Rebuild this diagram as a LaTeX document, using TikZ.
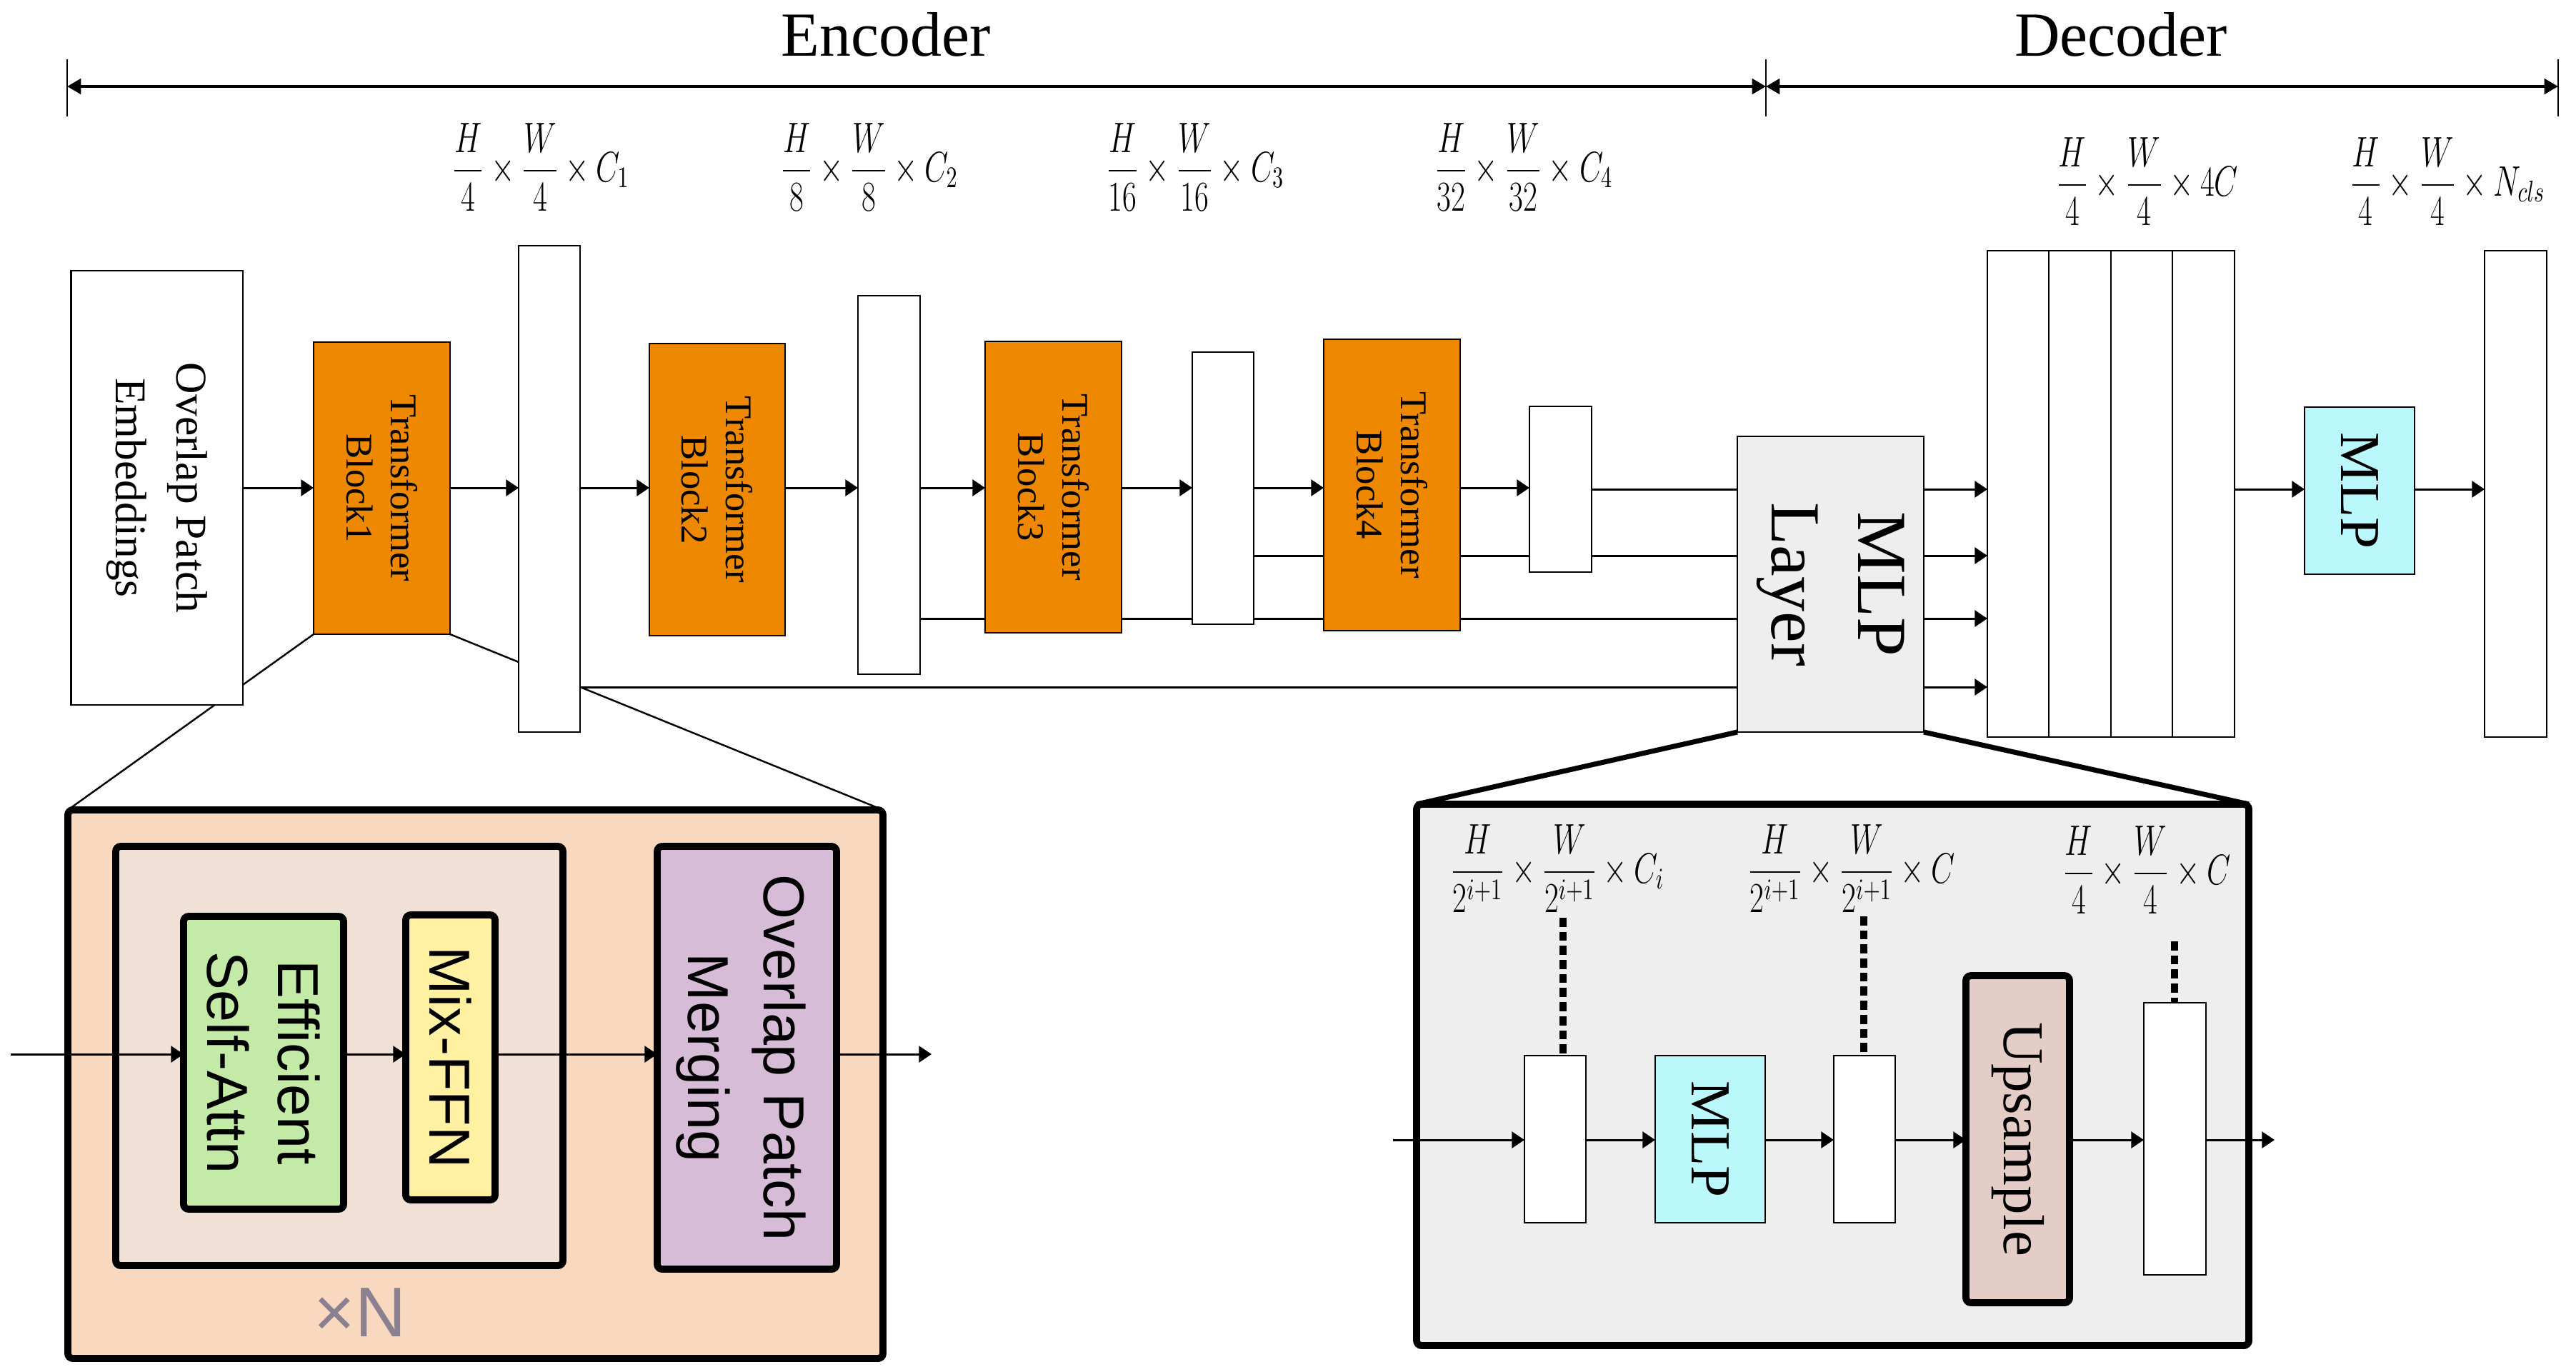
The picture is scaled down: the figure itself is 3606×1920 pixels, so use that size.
\RequirePackage{fix-cm}
\documentclass[tikz,border=0pt]{standalone}
\usepackage{fontspec}
\setmainfont{Liberation Serif}
\newfontfamily\arialf{Liberation Sans}
\usepackage{graphicx}
\usetikzlibrary{arrows.meta,fit}
\pgfdeclarelayer{bg}
\pgfsetlayers{bg,main}
\definecolor{orng}{HTML}{EE8800}
\definecolor{lgray}{HTML}{EEEEEE}
\definecolor{cyanb}{HTML}{BBF8FC}
\definecolor{peach}{HTML}{F8D9C0}
\definecolor{innerc}{HTML}{F1E0D5}
\definecolor{greenb}{HTML}{C3EBA7}
\definecolor{yellowb}{HTML}{FFF1A1}
\definecolor{purpleb}{HTML}{D7BCD7}
\definecolor{upsc}{HTML}{E3CDC6}
\definecolor{xngray}{HTML}{8A8090}
\newcommand\dimlab[1]{\scalebox{0.72}[1]{$\displaystyle #1$}}
\begin{document}
\begin{tikzpicture}[x=0.01cm,y=-0.01cm,
  thinbox/.style={draw, line width=0.8pt, inner sep=0pt, outer sep=0pt},
  thickbox/.style={draw, line width=2.8pt, rounded corners=2pt, inner sep=0pt, outer sep=0pt},
  arr/.style={-{Triangle[length=5pt,width=6.5pt]}, line width=0.85pt},
  bigarr/.style={{Triangle[length=5.5pt,width=6pt]}-{Triangle[length=5.5pt,width=6pt]}, line width=1.3pt},
  lbl/.style={rotate=-90, align=center, inner sep=0pt},
  dim/.style={anchor=base, inner sep=0pt, font=\fontsize{17}{20}\selectfont},
  dotl/.style={line width=3pt, dash pattern=on 3.6pt off 2pt},
]
\useasboundingbox (0,0) rectangle (3606,1920);

% ---------- top brackets ----------
\coordinate (tL) at (94,121);
\coordinate (tM) at (2472,121);
\coordinate (tR) at (3581,121);
\draw[line width=0.6pt] (94,83) -- (94,163);
\draw[line width=0.6pt] (2472,83) -- (2472,163);
\draw[line width=0.6pt] (3581,83) -- (3581,163);
\draw[bigarr] (tL) -- (tM);
\draw[bigarr] (tM) -- (tR);
\node[anchor=base, font=\fontsize{25}{30}\selectfont] (enc) at (1240,78) {Encoder};
\node[anchor=base, font=\fontsize{25}{30}\selectfont] (dec) at (2969,78) {Decoder};

% ---------- dimension labels ----------
\node[dim] (d1) at (757,254) {\dimlab{\frac{H}{4}\times\frac{W}{4}\times C_1}};
\node[dim] (d2) at (1217,254) {\dimlab{\frac{H}{8}\times\frac{W}{8}\times C_2}};
\node[dim] (d3) at (1673,254) {\dimlab{\frac{H}{16}\times\frac{W}{16}\times C_3}};
\node[dim] (d4) at (2133,254) {\dimlab{\frac{H}{32}\times\frac{W}{32}\times C_4}};
\node[dim] (d5) at (3006,274) {\dimlab{\frac{H}{4}\times\frac{W}{4}\times 4C}};
\node[dim] (d6) at (3426,274) {\dimlab{\frac{H}{4}\times\frac{W}{4}\times N_{cls}}};

% ---------- encoder row ----------
\node[thinbox, fill=white, fit={(99.5,379)(340,987)}] (ope) {};
\node[lbl, font=\fontsize{17.5}{24}\selectfont] at (ope.center) {Overlap Patch\\Embeddings};
\node[thinbox, fill=orng, fit={(439,479)(630,888)}] (tb1) {};
\node[lbl, font=\fontsize{15}{17.6}\selectfont] at (tb1.center) {Transformer\\Block1};
\node[thinbox, fill=white, fit={(726,344)(812,1025)}] (f1) {};
\node[thinbox, fill=orng, fit={(909,481)(1099,890)}] (tb2) {};
\node[lbl, font=\fontsize{15}{17.6}\selectfont] at (tb2.center) {Transformer\\Block2};
\node[thinbox, fill=white, fit={(1201,414)(1288,944)}] (f2) {};
\node[thinbox, fill=orng, fit={(1379,478)(1570,886)}] (tb3) {};
\node[lbl, font=\fontsize{15}{17.6}\selectfont] at (tb3.center) {Transformer\\Block3};
\node[thinbox, fill=white, fit={(1669,493)(1755,874)}] (f3) {};
\node[thinbox, fill=orng, fit={(1853,475)(2044,883)}] (tb4) {};
\node[lbl, font=\fontsize{15}{17.6}\selectfont] at (tb4.center) {Transformer\\Block4};
\node[thinbox, fill=white, fit={(2141,569)(2228,801)}] (f4) {};
\node[thinbox, fill=lgray, fit={(2432,611)(2693,1025)}] (mlpl) {};
\node[lbl, font=\fontsize{28}{34.6}\selectfont] at (mlpl.center) {MLP\\Layer};

% ---------- decoder row ----------
\node[thinbox, fill=white, fit={(2782,351)(2868,1032)}] (c1) {};
\node[thinbox, fill=white, fit={(2868,351)(2955,1032)}] (c2) {};
\node[thinbox, fill=white, fit={(2955,351)(3041,1032)}] (c3) {};
\node[thinbox, fill=white, fit={(3041,351)(3128,1032)}] (c4) {};
\node[thinbox, fill=cyanb, fit={(3226,570)(3380,804)}] (mlp) {};
\node[lbl, font=\fontsize{22.5}{27}\selectfont] at (mlp.center) {MLP};
\node[thinbox, fill=white, fit={(3478,351)(3565,1032)}] (outp) {};

\coordinate (r0) at (0,683);
\coordinate (r1) at (0,685);
\coordinate (r2) at (0,778);
\coordinate (r3) at (0,866);
\coordinate (r4) at (0,962);

\draw[arr] (ope.east |- r0) -- (tb1.west |- r0);
\draw[arr] (tb1.east |- r0) -- (f1.west |- r0);
\draw[arr] (f1.east |- r0) -- (tb2.west |- r0);
\draw[arr] (tb2.east |- r0) -- (f2.west |- r0);
\draw[arr] (f2.east |- r0) -- (tb3.west |- r0);
\draw[arr] (tb3.east |- r0) -- (f3.west |- r0);
\draw[arr] (f3.east |- r0) -- (tb4.west |- r0);
\draw[arr] (tb4.east |- r0) -- (f4.west |- r0);
\draw[line width=0.85pt] (f4.east |- r1) -- (mlpl.west |- r1);
\foreach \r in {r1,r2,r3,r4} {
  \draw[arr] (mlpl.east |- \r) -- (c1.west |- \r);
}
\draw[arr] (c4.east |- r1) -- (mlp.west |- r1);
\draw[arr] (mlp.east |- r1) -- (outp.west |- r1);

% ---------- encoder detail ----------
\node[thickbox, fill=peach, fit={(95,1134)(1236,1902)}] (eout) {};
\node[thickbox, fill=innerc, fit={(162,1185)(788,1772)}] (ein) {};
\node[thickbox, fill=greenb, fit={(257,1283)(481,1693)}] (esa) {};
\node[lbl, font=\arialf\fontsize{23}{28}\selectfont] at (esa.center) {Efficient\\Self-Attn};
\node[thickbox, fill=yellowb, fit={(568,1281)(693,1680)}] (ffn) {};
\node[lbl, font=\arialf\fontsize{23}{28}\selectfont] at (ffn.center) {Mix-FFN};
\node[thickbox, fill=purpleb, fit={(920,1185)(1171,1777)}] (opm) {};
\node[lbl, font=\arialf\fontsize{23}{30}\selectfont] at ([xshift=-0.08cm]opm.center) {Overlap Patch\\Merging};
\node[text=xngray, font=\arialf\fontsize{28}{32}\selectfont, inner sep=0pt] (xn) at (504,1838) {×N};

\coordinate (ea) at (15,1476);
\coordinate (eb) at (1304,1476);
\draw[arr] (ea) -- (esa.west |- ea);
\draw[arr] (esa.east |- ea) -- (ffn.west |- ea);
\draw[arr] (ffn.east |- ea) -- (opm.west |- ea);
\draw[arr] (opm.east |- ea) -- (eb);

% ---------- decoder detail ----------
\node[thickbox, fill=lgray, fit={(1983,1126)(3148,1884)}] (dbox) {};
\node[thinbox, fill=white, fit={(2134,1478)(2220,1712)}] (ba) {};
\node[thinbox, fill=cyanb, fit={(2317,1478)(2471,1712)}] (mlp2) {};
\node[lbl, font=\fontsize{22.5}{27}\selectfont] at (mlp2.center) {MLP};
\node[thinbox, fill=white, fit={(2567,1478)(2653,1712)}] (bb) {};
\node[thickbox, fill=upsc, fit={(2752,1366)(2897,1824)}] (ups) {};
\node[lbl, font=\fontsize{23}{27}\selectfont] at (ups.center) {Upsample};
\node[thinbox, fill=white, fit={(3001,1404)(3088,1785)}] (bc) {};

\node[dim] (d7) at (2180,1236) {\dimlab{\frac{H}{2^{i+1}}\times\frac{W}{2^{i+1}}\times C_i}};
\node[dim] (d8) at (2592,1236) {\dimlab{\frac{H}{2^{i+1}}\times\frac{W}{2^{i+1}}\times C}};
\node[dim] (d9) at (3005,1238) {\dimlab{\frac{H}{4}\times\frac{W}{4}\times C}};

\coordinate (pa) at (2188,1285);
\coordinate (pb) at (2609,1283);
\coordinate (pc) at (3044,1318);
\draw[dotl] (pa) -- (pa |- ba.north);
\draw[dotl] (pb) -- (pb |- bb.north);
\draw[dotl] (pc) -- (pc |- bc.north);

\coordinate (da) at (1950,1596);
\coordinate (db) at (3184,1596);
\draw[arr] (da) -- (ba.west |- da);
\draw[arr] (ba.east |- da) -- (mlp2.west |- da);
\draw[arr] (mlp2.east |- da) -- (bb.west |- da);
\draw[arr] (bb.east |- da) -- (ups.west |- da);
\draw[arr] (ups.east |- da) -- (bc.west |- da);
\draw[arr] (bc.east |- da) -- (db);

% ---------- background lines ----------
\begin{pgfonlayer}{bg}
  \draw[line width=0.85pt] (f3.east |- r2) -- (mlpl.west |- r2);
  \draw[line width=0.85pt] (f2.east |- r3) -- (mlpl.west |- r3);
  \draw[line width=0.85pt] (f1.east |- r4) -- (mlpl.west |- r4);
  \draw[line width=0.7pt] (tb1.south west) -- (eout.north west);
  \draw[line width=0.7pt] (tb1.south east) -- (eout.north east);
  \draw[line width=2pt] (mlpl.south west) -- (dbox.north west);
  \draw[line width=2pt] (mlpl.south east) -- (dbox.north east);
\end{pgfonlayer}
\end{tikzpicture}
\end{document}
